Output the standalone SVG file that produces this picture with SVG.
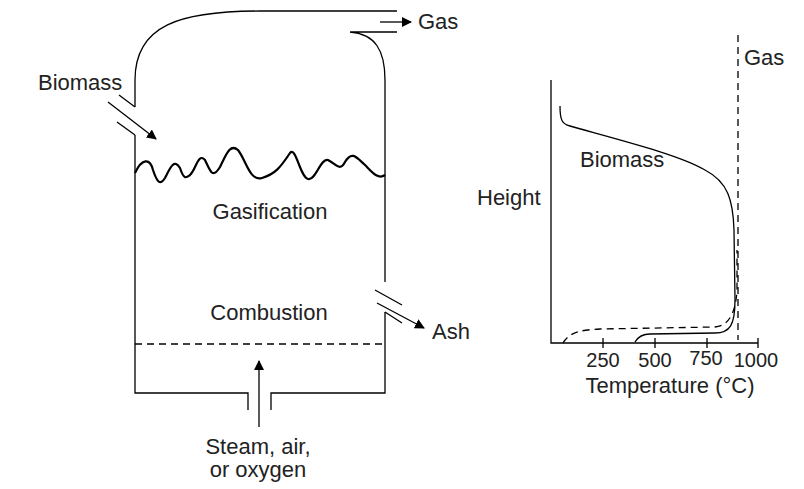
<svg xmlns="http://www.w3.org/2000/svg" width="804" height="489" viewBox="0 0 804 489">
<defs>
<marker id="ah" viewBox="0 0 10 10" refX="9" refY="5" markerWidth="10" markerHeight="10" markerUnits="userSpaceOnUse" orient="auto"><path d="M0,0 L10,5 L0,10 z" fill="#000"/></marker>
<style>
.l{fill:none;stroke:#000;stroke-width:1.3}
.d{fill:none;stroke:#000;stroke-width:1.3;stroke-dasharray:7,5}
text{font-family:"Liberation Sans",Arial,sans-serif;font-size:22px;fill:#222}
.n{font-size:20px}
</style>
</defs>
<rect width="804" height="489" fill="#fff"/>
<g id="vessel">
<path class="l" d="M135,107 L135,80 C135,25 180,11 260,11 L397,11"/>
<path class="l" d="M397,32 L350,32 C375,34 385,50 385,80 L385,282"/>
<path class="l" d="M385,312 L385,393 L271,393 L271,410"/>
<path class="l" d="M248,410 L248,393 L135,393 L135,135"/>
<path class="l" d="M119,95 L135,107 M117,122 L135,135"/>
<path class="l" d="M375,290 L402,305 M385,312 L402,323"/>
<path d="M135,173 C142,158 150,158 153,170 C157,182 160,186 165,178 C170,168 174,158 180,168 C184,180 186,178 190,175 C196,170 198,152 205,160 C210,170 212,180 220,167 C226,155 230,143 238,150 C246,160 250,182 262,178 C275,174 280,168 290,153 C296,146 300,177 308,179 C316,181 320,158 328,160 C336,164 340,172 345,162 C352,150 357,158 365,165 C372,172 378,180 385,175" fill="none" stroke="#000" stroke-width="2.2"/>
<line class="d" x1="135" y1="344" x2="385" y2="344"/>
<text x="270" y="219" text-anchor="middle">Gasification</text>
<text x="269" y="320" text-anchor="middle">Combustion</text>
</g>
<g id="connectors">
<line class="l" x1="380" y1="22" x2="411" y2="22" marker-end="url(#ah)"/>
<line class="l" x1="108" y1="102" x2="156" y2="139" marker-end="url(#ah)"/>
<line class="l" x1="377" y1="303" x2="424" y2="328" marker-end="url(#ah)"/>
<line class="l" x1="259" y1="427" x2="259" y2="361" marker-end="url(#ah)"/>
</g>
<g id="labels">
<text x="418" y="29">Gas</text>
<text x="38" y="90">Biomass</text>
<text x="432" y="339">Ash</text>
<text x="258" y="454" text-anchor="middle">Steam, air,</text>
<text x="258" y="477" text-anchor="middle">or oxygen</text>
</g>
<g id="chart">
<path class="l" d="M551,80 L551,343 L758,343"/>
<path class="l" d="M603,338 V348 M655,338 V348 M707,338 V348 M758,338 V348"/>
<line class="d" x1="738" y1="35" x2="738" y2="340"/>
<path class="l" d="M560,106 C560,120 562,124 570,126 C620,140 680,155 705,170 C728,182 733,200 734,230 L735,300 C735,325 730,333 715,333 L650,334 C642,334 638,337 635,342"/>
<path class="d" d="M563,343 C570,332 580,330 600,329 L715,327 C730,326 736,310 737,290 L737,250"/>
<text x="580" y="167">Biomass</text>
<text x="477" y="205">Height</text>
<text x="744" y="65">Gas</text>
<text class="n" x="603" y="367" text-anchor="middle">250</text>
<text class="n" x="655" y="367" text-anchor="middle">500</text>
<text class="n" x="706" y="365" text-anchor="middle">750</text>
<text class="n" x="756" y="367" text-anchor="middle">1000</text>
<text x="670" y="393" text-anchor="middle">Temperature (°C)</text>
</g>
</svg>
